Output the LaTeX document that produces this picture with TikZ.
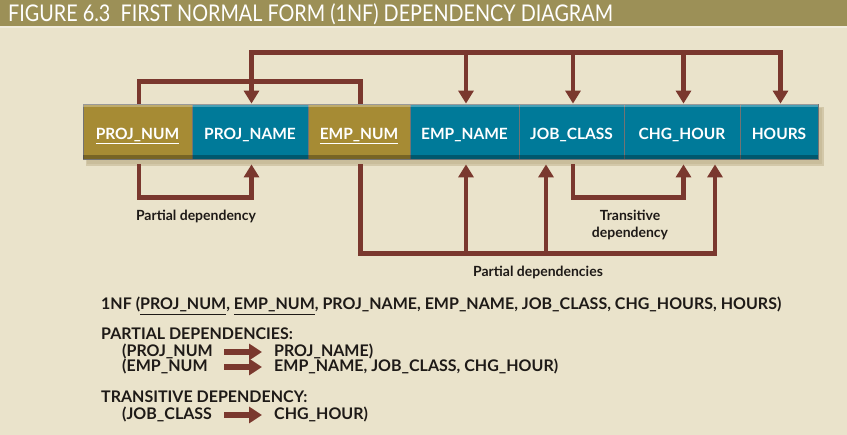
\documentclass[tikz,border=0pt]{standalone}
\usepackage{fontspec}
\setmainfont{Lato}
\usetikzlibrary{arrows.meta,calc}
\definecolor{bgc}{HTML}{EAE3CB}
\definecolor{titlec}{HTML}{9C9057}
\definecolor{goldc}{HTML}{A68B34}
\definecolor{tealc}{HTML}{007A99}
\definecolor{arrc}{HTML}{7A382E}
\definecolor{txtc}{HTML}{1E1A17}
\definecolor{shadc}{HTML}{C9BD9B}
\begin{document}
\begin{tikzpicture}[x=1pt,y=-1pt,
  cell/.style={minimum height=55pt,inner sep=0pt,text height=16pt,text depth=0pt,text=white,font=\fontsize{15.5}{18}\selectfont\bfseries,draw=black!55,line width=0.8pt},
  keycell/.style={cell,fill=goldc},
  attcell/.style={cell,fill=tealc},
  dep/.style={draw=arrc,line width=4.5pt},
  arr/.style={-{Triangle[width=15pt,length=13pt]}},
  lbl/.style={text=txtc,font=\fontsize{14}{17}\selectfont\bfseries,inner sep=0pt,align=center},
  body/.style={text=txtc,font=\fontsize{16}{18}\selectfont\bfseries,inner sep=0pt,anchor=base west},
  fat/.style={draw=arrc,line width=6.5pt,-{Triangle[width=16pt,length=13pt]}}]
\useasboundingbox (0,0) rectangle (847,435);
\fill[bgc] (0,0) rectangle (847,435);
\fill[titlec] (0,0) rectangle (847,26);
\fill[white,opacity=.35] (0,26) rectangle (847,28);
\node[anchor=base west,inner sep=0pt,text=white] (title) at (8,21.5)
  {\scalebox{0.86}[1]{\fontsize{23}{25}\selectfont FIGURE 6.3\ \ FIRST NORMAL FORM (1NF) DEPENDENCY DIAGRAM}};
% shadow
\fill[shadc!70!bgc] (86,107) rectangle (824,166);
\fill[shadc] (87,108) rectangle (822,164);
% cells
\node[keycell,minimum width=109pt] (pnum) at (137.5,131.5) {\underline{PROJ\_NUM}};
\node[attcell,minimum width=116pt] (pname) at (250,131.5) {PROJ\_NAME};
\node[keycell,minimum width=102pt] (enum) at (359,131.5) {\underline{EMP\_NUM}};
\node[attcell,minimum width=109pt] (ename) at (464.5,131.5) {EMP\_NAME};
\node[attcell,minimum width=105pt] (jclass) at (571.5,131.5) {JOB\_CLASS};
\node[attcell,minimum width=116pt] (chg) at (682,131.5) {CHG\_HOUR};
\node[attcell,minimum width=78pt] (hours) at (779,131.5) {HOURS};
\foreach \c in {pnum,pname,enum,ename,jclass,chg,hours}{
  \fill[white,opacity=.28] ([shift={(0.4pt,-0.4pt)}]\c.north west) rectangle ([shift={(-0.4pt,-3.5pt)}]\c.north east);
  \fill[black,opacity=.28] ([shift={(0.4pt,0.4pt)}]\c.south west) rectangle ([shift={(-0.4pt,4pt)}]\c.south east);
}
% top connectors
\draw[dep] ([xshift=1.5pt]pnum.north) -- ++(0,-22) -| ([xshift=1.5pt]enum.north);
\coordinate (topbar) at ([xshift=1.5pt,yshift=51pt]pname.north);
\draw[dep,arr] (topbar) -- ([xshift=1.5pt]pname.north);
\draw[dep,arr] ([xshift=-2.25pt]topbar) -| ([xshift=1.5pt]hours.north);
\foreach \c in {ename,jclass,chg}
  \draw[dep,arr] ([xshift=1.5pt]\c.north |- topbar) -- ([xshift=1.5pt]\c.north);
% bottom connectors
\draw[dep,arr] ([xshift=1.5pt,yshift=-5pt]pnum.south) -- ++(0,33) -| ([xshift=1.5pt,yshift=-5pt]pname.south);
\draw[dep,arr] ([xshift=1.5pt,yshift=-5pt]enum.south) -- ++(0,89) coordinate (botbar) -| ([xshift=33pt,yshift=-5pt]chg.south);
\draw[dep,arr] ([xshift=1.5pt]ename.south |- botbar) -- ([xshift=1.5pt,yshift=-5pt]ename.south);
\draw[dep,arr] ([xshift=-25.5pt]jclass.south |- botbar) -- ([xshift=-25.5pt,yshift=-5pt]jclass.south);
\draw[dep,arr] ([xshift=1.5pt,yshift=-5pt]jclass.south) -- ++(0,33) -| ([xshift=1.5pt,yshift=-5pt]chg.south);
% labels
\node[lbl] (l1) at (196,216) {Partial dependency};
\node[lbl] (l2) at (630,225) {Transitive\\dependency};
\node[lbl] (l3) at (538,272) {Partial dependencies};
% body text
\node[body] (nf) at (101,310) {1NF (\underline{PROJ\_NUM}, \underline{EMP\_NUM}, PROJ\_NAME, EMP\_NAME, JOB\_CLASS, CHG\_HOURS, HOURS)};
\node[body] (pd) at (101,340) {PARTIAL DEPENDENCIES:};
\node[body] (pd1a) at (122,357) {(PROJ\_NUM};
\node[body] (pd1b) at (274,357) {PROJ\_NAME)};
\node[body] (pd2a) at (122,372) {(EMP\_NUM};
\node[body] (pd2b) at (274,372) {EMP\_NAME, JOB\_CLASS, CHG\_HOUR)};
\node[body] (td) at (101,403) {TRANSITIVE DEPENDENCY:};
\node[body] (td1a) at (122,420) {(JOB\_CLASS};
\node[body] (td1b) at (274,420) {CHG\_HOUR)};
\draw[fat] (224,352) -- (262,352);
\draw[fat] (224,367) -- (262,367);
\draw[fat] (224,415) -- (262,415);
\end{tikzpicture}
\end{document}
